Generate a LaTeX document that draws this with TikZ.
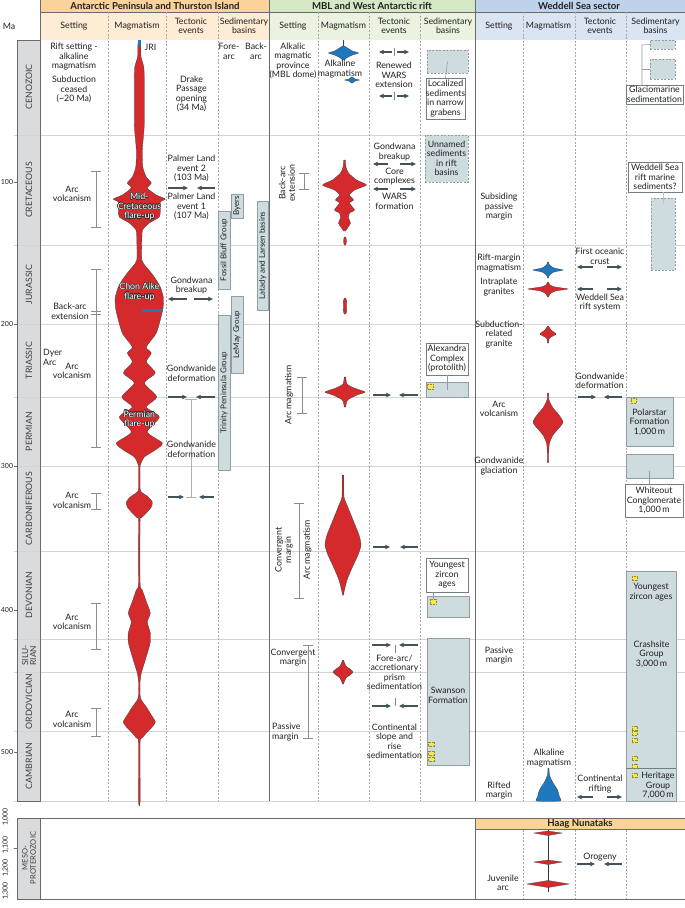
\documentclass[tikz,border=0pt]{standalone}
\usepackage{fontspec}
\setmainfont{Lato}
\usepackage[copies]{contour}
\contourlength{0.4pt}
\usetikzlibrary{arrows.meta}
\definecolor{txt}{HTML}{231F20}
\definecolor{org1}{HTML}{F9D39A}
\definecolor{org2}{HTML}{FEECD5}
\definecolor{grn1}{HTML}{D4E8C6}
\definecolor{grn2}{HTML}{E9F3E0}
\definecolor{blu1}{HTML}{BDD3EB}
\definecolor{blu2}{HTML}{D9E5F2}
\definecolor{era}{HTML}{DADBDD}
\definecolor{sed}{HTML}{CFDCDF}
\definecolor{sedb}{HTML}{8E9EA2}
\definecolor{magr}{HTML}{D42A2C}
\definecolor{magb}{HTML}{1F78BE}
\definecolor{ylw}{HTML}{F6E84A}
\definecolor{arrc}{HTML}{44525A}
\definecolor{gline}{HTML}{D4D4D4}
\definecolor{dsh}{HTML}{A8A8A8}
\definecolor{bord}{HTML}{6A6A6A}
\definecolor{brk}{HTML}{8C8C8C}
\newcommand\fs{\fontsize{8.8}{9.5}\selectfont}
\newcommand\fsm{\fontsize{8}{9}\selectfont}
\newcommand\fsn{\fontsize{7}{8}\selectfont}
\newcommand\vprof[3]{%
  \gdef\pR{}\gdef\pL{}%
  \foreach \yy/\ww in {#3}{%
    \pgfmathsetmacro\xr{#2+\ww}\pgfmathsetmacro\xl{#2-\ww}%
    \xdef\pR{\pR(\xr,\yy)}\xdef\pL{(\xl,\yy)\pL}}%
  \edef\tmp{\noexpand\path[#1] plot[smooth,tension=0.4] coordinates {\pR\pL} -- cycle;}\tmp}
\newcommand\brak[4]{%
  \coordinate (#1a) at (#2,#3); \coordinate (#1b) at (#2,#4);
  \draw[brk] ([xshift=-5pt]#1a) -- ([xshift=5pt]#1a) (#1a) -- (#1b) ([xshift=-5pt]#1b) -- ([xshift=5pt]#1b);}
\newcommand\conv[6]{%
  \coordinate (#1a) at (#2,#6); \coordinate (#1b) at (#3,#6);
  \coordinate (#1c) at (#4,#6); \coordinate (#1d) at (#5,#6);
  \draw[arr] (#1a) -- (#1b); \draw[arr] (#1d) -- (#1c);}
\newcommand\diverg[6]{%
  \coordinate (#1a) at (#2,#6); \coordinate (#1b) at (#3,#6);
  \coordinate (#1c) at (#4,#6); \coordinate (#1d) at (#5,#6);
  \draw[arr] (#1b) -- (#1a); \draw[arr] (#1c) -- (#1d);}
\newcommand\ct[1]{\contour{black!80}{#1}}
\begin{document}
\begin{tikzpicture}[x=1pt,y=-1pt,
  tx/.style={font=\fs, text=txt, align=center, inner sep=0pt},
  ttl/.style={font=\bfseries\fontsize{9.6}{10}\selectfont, text=txt, inner sep=0pt},
  eralab/.style={font=\fontsize{8.8}{9}\selectfont, text=black!75, align=center, inner sep=0pt, rotate=90},
  sedbox/.style={fill=sed, draw=sedb, line width=0.5pt},
  dsedbox/.style={fill=sed, draw=sedb, line width=0.5pt, dash pattern=on 2pt off 1.5pt},
  lbl/.style={draw=sedb!80!black, fill=white, line width=0.5pt},
  rtx/.style={font=\fsm, text=txt, inner sep=0pt, rotate=90},
  ysq/.style={fill=ylw, draw=ylw!60!black, line width=0.35pt, dash pattern=on 0.8pt off 0.6pt},
  arr/.style={draw=arrc, line width=1.1pt, -{Stealth[length=5pt,width=4.6pt,inset=1.2pt]}},
  brk/.style={draw=brk, line width=0.55pt},
  conn/.style={draw=sedb, line width=0.55pt},
  redsh/.style={fill=magr, draw=black!75, line width=0.3pt},
  blush/.style={fill=magb, draw=black!75, line width=0.3pt},
  gl/.style={draw=gline, line width=0.6pt},
  dl/.style={draw=dsh, line width=0.5pt, dash pattern=on 2pt off 1.6pt},
  bd/.style={draw=bord, line width=0.8pt}]
\useasboundingbox (0,0) rectangle (685,908);
% ---------- headers ----------
\fill[org1] (40,0) rectangle (269,12);
\fill[org2] (40,12) rectangle (269,40);
\fill[grn1] (269,0) rectangle (475,12);
\fill[grn2] (269,12) rectangle (475,40);
\fill[blu1] (475,0) rectangle (685,12);
\fill[blu2] (475,12) rectangle (685,40);
\draw[bord, line width=0.4pt] (40,12) -- (685,12);
\fill[era] (17,40) rectangle (40,801);
\node[ttl] (h1) at (155,6.3) {Antarctic Peninsula and Thurston Island};
\node[ttl] (h2) at (372,6.3) {MBL and West Antarctic rift};
\node[ttl] (h3) at (579,6.3) {Weddell Sea sector};
\node[tx] (ma) at (9,26) {Ma};
\node[tx] (c11) at (74,26) {Setting};
\node[tx] (c12) at (137,26) {Magmatism};
\node[tx] (c13) at (191,26) {Tectonic\\events};
\node[tx] (c14) at (244,26) {Sedimentary\\basins};
\node[tx] (c21) at (293,26) {Setting};
\node[tx] (c22) at (343.5,26) {Magmatism};
\node[tx] (c23) at (394,26) {Tectonic\\events};
\node[tx] (c24) at (448,26) {Sedimentary\\basins};
\node[tx] (c31) at (499,26) {Setting};
\node[tx] (c32) at (548.5,26) {Magmatism};
\node[tx] (c33) at (600,26) {Tectonic\\events};
\node[tx] (c34) at (655.5,26) {Sedimentary\\basins};
% ---------- grid ----------
\foreach \yy in {135,245,324,397,466,551,639,672,731,801} \draw[gl] (14,\yy) -- (685,\yy);
\foreach \v/\yy in {100/182,200/324,300/466,400/610,500/752}{
  \draw[bord, line width=0.4pt] (13.5,\yy) -- (17,\yy);
  \node[tx, font=\fsn, anchor=east] (ma\v) at (13.3,\yy) {\v};}
\foreach \xx in {108,166,218,318,369,420,523,575,626} \draw[dl] (\xx,12) -- (\xx,801);
\draw[bd] (40,0) -- (40,801);
\draw[bd] (269,0) -- (269,801);
\draw[bd] (475,0) -- (475,801);
\draw[bd] (17,40) rectangle (40,801);
% era labels
\node[eralab] (e1) at (29,87) {CENOZOIC};
\node[eralab] (e2) at (29,190) {CRETACEOUS};
\node[eralab] (e3) at (29,284.5) {JURASSIC};
\node[eralab] (e4) at (29,360.5) {TRIASSIC};
\node[eralab] (e5) at (29,431.5) {PERMIAN};
\node[eralab] (e6) at (29,508.5) {CARBONIFEROUS};
\node[eralab] (e7) at (29,595) {DEVONIAN};
\node[eralab, font=\fontsize{8.4}{8}\selectfont] (e8) at (29,655.5) {SILU-\\RIAN};
\node[eralab] (e9) at (29,701.5) {ORDOVICIAN};
\node[eralab] (e10) at (29,766) {CAMBRIAN};
% ---------- Section 1 : Antarctic Peninsula ----------
\node[tx] (a1) at (74,57) {Rift setting -\\alkaline\\magmatism};
\node[tx] (a2) at (74,89.5) {Subduction\\ceased\\(\textasciitilde 20 Ma)};
\node[tx] (a3) at (72,194) {Arc\\volcanism};
\brak{b1}{96}{171}{227}
\brak{b2}{96}{269}{447}
\node[tx] (a4) at (70,311.5) {Back-arc\\extension};
\draw[brk] (91,311.5) -- (101,311.5) (91,314.5) -- (101,314.5);
\node[tx, align=left, anchor=west] (a5) at (43,357.5) {Dyer\\Arc};
\node[tx] (a6) at (72,371) {Arc\\volcanism};
\brak{b3}{96}{493}{509}
\node[tx] (a7) at (72,500.5) {Arc\\volcanism};
\brak{b4}{96}{603}{649}
\node[tx] (a8) at (72,622) {Arc\\volcanism};
\brak{b5}{96}{708}{736}
\node[tx] (a9) at (72,719.5) {Arc\\volcanism};
% magmatism shape
\vprof{redsh}{139.3}{44/1.5, 55/1.5, 60/2.5, 67/4.5, 80/5, 120/5, 130/4.7, 150/3, 167/3.5, 177/7, 183/12, 188/8, 195/17, 199/26, 202/21, 210/21, 217/20, 223/10, 230/3.3, 240/2.5, 260/2.5, 267/7, 273/12, 280/17, 287/21, 297/24, 305/24, 312/23, 333/17, 347/7, 353/12, 362/7, 373/16, 383/5, 397/17.5, 407/7, 417/20, 432/8, 443/23, 450/16, 457/5, 465/1, 470/0.8, 488/0.8, 492/2, 497/9, 502/13, 507/12, 513/7, 518/2, 521/0.8, 583/0.8, 590/3, 603/7.5, 613/11, 622/8, 633/11, 642/11, 650/9, 660/6, 673/2, 682/0.8, 695/0.8, 700/2, 707/7, 715/12, 722/16, 728/12, 733/7, 738/3, 743/0.8, 801/0.8}
\fill[magb] (137.6,40) rectangle (141.2,45.5);
\fill[magb] (142,308.6) rectangle (162,311.8);
\node[tx] (jri) at (150.5,47) {JRI};
\node[tx, text=white] (fl1) at (139.3,207) {\ct{Mid-}\\\ct{Cretaceous}\\\ct{flare-up}};
\node[tx, text=white] (fl2) at (139.3,292) {\ct{Chon Aike}\\\ct{flare-up}};
\node[tx, text=white] (fl3) at (139.3,419.5) {\ct{Permian}\\\ct{flare-up}};
% tectonic events
\node[tx] (t1) at (191.5,94) {Drake\\Passage\\opening\\(34 Ma)};
\node[tx] (t2) at (191.5,168.5) {Palmer Land\\event 2\\(103 Ma)};
\conv{k1}{168}{188}{197}{215}{188}
\node[tx] (t3) at (191.5,206.5) {Palmer Land\\event 1\\(107 Ma)};
\node[tx] (t4) at (191.5,285.5) {Gondwana\\breakup};
\diverg{k2}{168}{187}{194}{213}{299}
\node[tx] (t5) at (191.5,373.5) {Gondwanide\\deformation};
\conv{k3}{168}{187}{196}{215}{397}
\coordinate (g1) at (191,399.5); \coordinate (g2) at (191,497);
\draw[brk, draw=brk!70] (185,399.5) -- (197,399.5) (g1) -- (g2) (186,497) -- (196,497);
\node[tx] (t6) at (191.5,449.5) {Gondwanide\\deformation};
\conv{k4}{168}{184}{199}{214}{497}
% sedimentary basins
\node[tx] (s1) at (229,51.5) {Fore-\\arc};
\node[tx] (s2) at (256,51.5) {Back-\\arc};
\node[sedbox, minimum width=12pt, minimum height=78pt, inner sep=0pt] (fb) at (224,250) {};
\node[rtx] (fbt) at (fb.center) {Fossil Bluff Group};
\node[sedbox, minimum width=12pt, minimum height=24pt, inner sep=0pt] (by) at (237,206) {};
\node[rtx] (byt) at (by.center) {Byers};
\node[sedbox, minimum width=11pt, minimum height=109pt, inner sep=0pt] (ll) at (262.5,255.5) {};
\node[rtx] (llt) at (ll.center) {Latady and Larsen basins};
\node[sedbox, minimum width=12pt, minimum height=77pt, inner sep=0pt] (lm) at (237,334.5) {};
\node[rtx] (lmt) at (lm.center) {LeMay Group};
\node[sedbox, minimum width=12pt, minimum height=155pt, inner sep=0pt] (tp) at (224,392.5) {};
\node[rtx] (tpt) at (tp.center) {Trinity Peninsula Group};
% ---------- Section 2 : MBL ----------
\node[tx] (m1) at (293,61) {Alkalic\\magmatic\\province\\(MBL dome)};
\node[tx, rotate=90] (m2) at (287,183) {Back-arc\\extension};
\brak{b6}{304}{173}{189}
\node[tx, rotate=90] (m3) at (289,395) {Arc magmatism};
\brak{b7}{302}{377}{413}
\node[tx, rotate=90] (m4) at (284,550) {Convergent\\margin};
\brak{b8}{299}{503}{598}
\node[tx, rotate=90] (m5) at (307.5,550) {Arc magmatism};
\node[tx] (m6) at (293,657.5) {Convergent\\margin};
\brak{b9}{308}{645}{738}
\node[tx, align=left, anchor=west] (m7) at (272,732) {Passive\\margin};
% magmatism
\draw[black!75, line width=0.5pt] (343.5,40) -- (343.5,47);
\vprof{blush}{343.5}{46/0.8, 48/4, 51/9, 53/15, 55/9, 58/3, 60/0.8}
\node[tx] (m8) at (340,69) {Alkaline\\magmatism};
\vprof{blush}{352}{77/0.5, 79/3, 80/7.5, 81/3, 83/0.5}
\vprof{redsh}{344.5}{160/0.8, 167/1.5, 173/4, 180/12, 185/22, 190/10, 195/5, 200/9, 203/5, 210/10, 213/5, 218/4, 223/6, 228/3, 231/0.8}
\vprof{redsh}{345}{237/0.6, 239/1.3, 243/1.3, 245/0.6}
\vprof{redsh}{345}{298/0.6, 301/1.6, 311/1.6, 314/0.6}
\vprof{redsh}{345}{377/0.8, 384/2, 388/9, 392/20, 395/12, 399/4, 402/1.5, 407/0.8}
\vprof{redsh}{343}{475/0.8, 497/1, 505/4, 520/10, 535/16, 545/18, 555/15, 568/9, 580/4, 592/1, 595/0.6}
\vprof{redsh}{343}{660/0.5, 666/3, 672/10, 678/3, 684/0.5}
% tectonic
\diverg{k5}{379}{392}{397}{409}{52}
\draw[brk, draw=arrc!70] (394.5,48) -- (394.5,56);
\node[tx] (m9) at (394,75) {Renewed\\WARS\\extension};
\diverg{k6}{379}{392}{397}{409}{96}
\draw[brk, draw=arrc!70] (394.5,92) -- (394.5,100);
\node[tx] (m10) at (394.5,152) {Gondwana\\breakup};
\diverg{k7}{373}{388}{400}{416}{164}
\node[tx] (m11) at (394.5,176.5) {Core\\complexes};
\diverg{k8}{373}{388}{400}{416}{189}
\node[tx] (m12) at (394.5,201.5) {WARS\\formation};
\conv{k9}{373}{391}{399}{418}{395}
\conv{k10}{373}{390}{400}{418}{547}
\conv{k11}{372}{391}{399}{418}{645}
\draw[brk, draw=arrc!70] (395,645) -- (395,653);
\node[tx] (m13) at (394.5,672.5) {Fore-arc/\\accretionary\\prism\\sedimentation};
\conv{k12}{372}{391}{399}{418}{706}
\draw[brk, draw=arrc!70] (395,698) -- (395,706);
\node[tx] (m14) at (394.5,741.5) {Continental\\slope and\\rise\\sedimentation};
% sedimentary
\node[dsedbox, minimum width=41pt, minimum height=23pt, inner sep=0pt] (lz1) at (447.5,61.5) {};
\node[lbl, tx, minimum width=39pt, minimum height=41pt] (lz) at (445.5,98.5) {Localized\\sediments\\in narrow\\grabens};
\draw[conn] (lz1.center) -- (lz.north);
\node[dsedbox, tx, minimum width=43pt, minimum height=47pt] (un) at (446.5,158.5) {Unnamed\\sediments\\in rift\\basins};
\node[lbl, tx, minimum width=42pt, minimum height=32pt] (al) at (447,359) {Alexandra\\Complex\\(protolith)};
\node[sedbox, minimum width=42pt, minimum height=15pt, inner sep=0pt] (alb) at (447,389.5) {};
\coordinate (alc) at (447,390);
\draw[conn] (al.south) -- (alc);
\node[ysq, minimum width=6pt, minimum height=5pt, inner sep=0pt] (y1) at (430.5,386.5) {};
\node[lbl, tx, minimum width=42pt, minimum height=34pt] (yz) at (447,575) {Youngest\\zircon\\ages};
\node[sedbox, minimum width=42pt, minimum height=21pt, inner sep=0pt] (yzb) at (448,606.5) {};
\node[ysq, minimum width=6pt, minimum height=5pt, inner sep=0pt] (y2) at (433,601.5) {};
\draw[conn] (yz.south -| y2) -- (y2.north);
\node[sedbox, minimum width=42pt, minimum height=127pt, inner sep=0pt] (sw) at (448,701.5) {};
\node[tx] (swt) at (448,695.5) {Swanson\\Formation};
\node[ysq, minimum width=6pt, minimum height=4.5pt, inner sep=0pt] (y3) at (431.5,744.2) {};
\node[ysq, minimum width=6pt, minimum height=4.5pt, inner sep=0pt] (y4) at (431.5,753.2) {};
\node[ysq, minimum width=6pt, minimum height=4.5pt, inner sep=0pt] (y5) at (431.5,759.2) {};
% ---------- Section 3 : Weddell Sea ----------
\node[tx] (w1) at (499,207) {Subsiding\\passive\\margin};
\node[tx] (w2) at (499,263) {Rift-margin\\magmatism};
\node[tx] (w3) at (499,287) {Intraplate\\granites};
\node[tx] (w4) at (499,334.5) {Subduction-\\related\\granite};
\node[tx] (w5) at (499,409) {Arc\\volcanism};
\node[tx] (w6) at (499,466) {Gondwanide\\glaciation};
\node[tx] (w7) at (499,655.5) {Passive\\margin};
\node[tx] (w8) at (499,790.5) {Rifted\\margin};
\vprof{blush}{548}{262/0.5, 265/1.5, 268/6, 270/15, 272/6, 275/1.5, 278/0.5}
\vprof{redsh}{548}{282/0.5, 285/2, 287/7, 289/20, 291/7, 294/2, 297/0.5}
\vprof{redsh}{548}{326/0.5, 330/3, 334/8, 337/3, 339/1, 343/0.6}
\vprof{redsh}{548}{393/0.6, 400/1, 408/5, 415/11, 422/15, 428/11, 435/5, 443/1.5, 450/0.8, 462/0.6}
\vprof{blush}{548.5}{768/0.5, 775/1, 782/4, 790/9, 797/11, 801/11.5}
\node[tx] (w9) at (549,758) {Alkaline\\magmatism};
\node[tx] (w10) at (600,256.5) {First oceanic\\crust};
\diverg{k13}{577}{593}{607}{622}{267}
\diverg{k14}{577}{593}{607}{622}{289}
\node[tx] (w11) at (600,302.5) {Weddell Sea\\rift system};
\node[tx] (w12) at (600,381) {Gondwanide\\deformation};
\conv{k15}{578}{596}{604}{622}{397}
\node[tx] (w13) at (600,784) {Continental\\rifting};
\diverg{k16}{577}{593}{607}{622}{797}
% sedimentary
\node[dsedbox, minimum width=25pt, minimum height=9pt, inner sep=0pt] (gm1) at (662.5,44.5) {};
\node[dsedbox, minimum width=25pt, minimum height=20pt, inner sep=0pt] (gm2) at (662.5,69) {};
\node[lbl, tx, minimum width=57pt, minimum height=19pt] (gm) at (654.5,94.5) {Glaciomarine\\sedimentation};
\coordinate (gmt) at (642,45);
\draw[conn] (gm1.west) -- (gmt) -- (gmt |- gm.north);
\draw[conn] (gm2.west) -- (gmt |- gm2.west);
\node[lbl, tx, minimum width=54pt, minimum height=30pt] (wsm) at (655,177) {Weddell Sea\\rift marine\\sediments?};
\node[dsedbox, minimum width=24pt, minimum height=72pt, inner sep=0pt] (wsb) at (663,234) {};
\coordinate (wsc) at (663,204);
\draw[conn, draw=sedb!60] (wsm.south -| wsc) -- (wsc);
\node[sedbox, minimum width=47pt, minimum height=49pt, inner sep=0pt] (ps) at (649.5,421.5) {};
\node[ysq, minimum width=5.5pt, minimum height=4.5pt, inner sep=0pt] (y6) at (633.5,400.8) {};
\node[tx] (pst) at (649.5,422) {Polarstar\\Formation\\1,000\,m};
\node[sedbox, minimum width=47pt, minimum height=24pt, inner sep=0pt] (wo) at (649.5,466) {};
\node[lbl, tx, minimum width=58pt, minimum height=33pt] (wol) at (654,500.5) {Whiteout\\Conglomerate\\1,000\,m};
\coordinate (woc) at (649,471);
\draw[conn] (woc) -- (woc |- wol.north);
\node[sedbox, minimum width=50pt, minimum height=230pt, inner sep=0pt] (cs) at (651,686) {};
\draw[sedb!80!black, line width=0.5pt] (626,768) -- (676,768);
\node[ysq, minimum width=5.5pt, minimum height=4.5pt, inner sep=0pt] (y7) at (634.5,578.3) {};
\node[tx] (cs1) at (651,592) {Youngest\\zircon ages};
\node[tx] (cs2) at (651.5,654) {Crashsite\\Group\\3,000\,m};
\node[tx] (cs3) at (658,785.5) {Heritage\\Group\\7,000\,m};
\foreach \yy [count=\i] in {728.3,733,740.5,758.3,766,775.5}
  \node[ysq, minimum width=5.5pt, minimum height=4.3pt, inner sep=0pt] (yh\i) at (634.5,\yy) {};
% ---------- Haag Nunataks panel ----------
\fill[era] (17,818) rectangle (40,899);
\fill[org1] (475,818) rectangle (685,829.5);
\draw[bd] (17,818) -- (685,818);
\draw[bd] (17,899) -- (685,899);
\draw[bd] (17,818) -- (17,899);
\draw[bd] (40,818) -- (40,899);
\draw[bd] (475,818) -- (475,899);
\draw[bord, line width=0.4pt] (475,829.5) -- (685,829.5);
\foreach \xx in {523,575,626} \draw[dl] (\xx,829.5) -- (\xx,899);
\node[ttl] (hn) at (580,824) {Haag Nunataks};
\node[eralab, font=\fontsize{7.6}{8.2}\selectfont] (e11) at (29,858) {MESO-\\PROTEROZOIC};
\node[tx, font=\fsn, rotate=90] (p1) at (5.5,817) {1,000};
\node[tx, font=\fsn, rotate=90] (p2) at (5.5,845) {1,100};
\node[tx, font=\fsn, rotate=90] (p3) at (5.5,868) {1,200};
\node[tx, font=\fsn, rotate=90] (p4) at (5.5,891) {1,300};
\draw[bord, line width=0.4pt] (14,848) -- (17,848);
\coordinate (hv1) at (548,830); \coordinate (hv2) at (548,892);
\draw[black!80, line width=0.6pt] (hv1) -- (hv2);
\fill[magr, draw=black!75, line width=0.3pt] (534,833) -- (548,831) -- (562,833) -- (548,835.5) -- cycle;
\fill[magr, draw=black!75, line width=0.3pt] (534,862) -- (548,860) -- (562,862) -- (548,864.5) -- cycle;
\fill[magr, draw=black!75, line width=0.3pt] (527,884) -- (548,880.5) -- (569,884) -- (548,887.5) -- cycle;
\node[tx] (hj) at (503,883) {Juvenile\\arc};
\node[tx] (ho) at (600,857) {Orogeny};
\conv{k17}{577}{595}{604}{622}{864}
\end{tikzpicture}
\end{document}
